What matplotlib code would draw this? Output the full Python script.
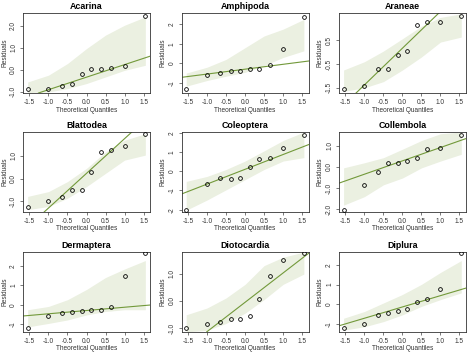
import matplotlib
matplotlib.use('Agg')
import matplotlib.pyplot as plt

plt.rcParams['font.family'] = ['Liberation Sans', 'DejaVu Sans']

# theoretical quantiles of the 10 points, and x positions where the envelope is read
quantiles = [-1.547, -1.0, -0.655, -0.375, -0.123, 0.123, 0.375, 0.655, 1.0, 1.547]
band_q = [-1.547, -1.0, -0.5, 0.0, 0.5, 1.0, 1.547]

taxa = ['Acarina', 'Amphipoda', 'Araneae',
        'Blattodea', 'Coleoptera', 'Collembola',
        'Dermaptera', 'Diotocardia', 'Diplura']

resid_acarina = [-0.86, -0.85, -0.74, -0.65, -0.18, 0.02, 0.05, 0.08, 0.18, 2.44]
resid_amphipoda = [-1.34, -0.61, -0.47, -0.39, -0.39, -0.31, -0.31, -0.08, 0.75, 2.37]
resid_araneae = [-1.53, -1.44, -0.72, -0.69, -0.13, 0.04, 1.17, 1.29, 1.29, 1.51]
resid_blattodea = [-1.26, -1.0, -0.8, -0.51, -0.51, 0.28, 1.17, 1.25, 1.42, 1.94]
resid_coleoptera = [-2.0, -0.69, -0.37, -0.41, -0.34, 0.21, 0.65, 0.67, 1.22, 1.88]
resid_collembola = [-2.02, -0.87, -0.24, 0.19, 0.18, 0.26, 0.43, 0.85, 0.88, 1.51]
resid_dermaptera = [-1.2, -0.56, -0.42, -0.37, -0.32, -0.28, -0.25, -0.11, 1.5, 2.7]
resid_diotocardia = [-0.98, -0.83, -0.76, -0.68, -0.68, -0.55, 0.06, 0.93, 1.49, 1.76]
resid_diplura = [-1.18, -0.98, -0.55, -0.46, -0.34, -0.21, 0.12, 0.29, 0.77, 2.57]

# reference line: intercept, slope
line_intercept = [-0.33, -0.30, 0.17, 0.23, 0.10, 0.28, -0.30, -0.05, -0.13]
line_slope = [0.57, 0.25, 1.55, 1.52, 0.77, 0.63, 0.17, 1.08, 0.57]

# envelope read at band_q
upper_acarina = [-0.55, -0.24, 0.29, 0.97, 1.58, 2.03, 2.41]
lower_acarina = [-1.03, -1.0, -0.85, -0.62, -0.32, -0.02, 0.21]
upper_amphipoda = [-0.5, -0.2, 0.2, 0.8, 1.4, 1.75, 2.25]
lower_amphipoda = [-1.17, -0.88, -0.66, -0.46, -0.12, 0.3, 0.64]
upper_araneae = [-0.75, -0.4, 0.05, 0.57, 1.1, 1.47, 1.62]
lower_araneae = [-1.65, -1.5, -1.24, -0.75, -0.2, 0.43, 0.64]
upper_blattodea = [-0.78, -0.57, -0.13, 0.45, 1.17, 1.68, 1.97]
lower_blattodea = [-1.36, -1.22, -0.86, -0.35, 0.23, 0.81, 1.03]
upper_coleoptera = [-0.53, -0.27, 0.09, 0.53, 1.06, 1.6, 2.04]
lower_coleoptera = [-2.03, -1.5, -0.97, -0.44, 0.09, 0.53, 0.71]
upper_collembola = [-0.05, 0.19, 0.43, 0.83, 1.24, 1.56, 1.64]
lower_collembola = [-1.81, -1.41, -0.85, -0.53, -0.05, 0.27, 0.59]
upper_dermaptera = [-0.26, -0.09, 0.26, 0.79, 1.41, 1.85, 2.29]
lower_dermaptera = [-1.15, -0.97, -0.79, -0.53, -0.35, -0.26, -0.26]
upper_diotocardia = [-0.51, -0.26, 0.11, 0.61, 1.3, 1.61, 1.8]
lower_diotocardia = [-1.14, -1.08, -0.83, -0.45, 0.05, 0.61, 0.99]
upper_diplura = [-0.7, -0.36, 0.07, 0.5, 1.01, 1.61, 2.21]
lower_diplura = [-1.3, -1.13, -0.87, -0.53, -0.1, 0.24, 0.58]

residuals = [resid_acarina, resid_amphipoda, resid_araneae,
             resid_blattodea, resid_coleoptera, resid_collembola,
             resid_dermaptera, resid_diotocardia, resid_diplura]
uppers = [upper_acarina, upper_amphipoda, upper_araneae,
          upper_blattodea, upper_coleoptera, upper_collembola,
          upper_dermaptera, upper_diotocardia, upper_diplura]
lowers = [lower_acarina, lower_amphipoda, lower_araneae,
          lower_blattodea, lower_coleoptera, lower_collembola,
          lower_dermaptera, lower_diotocardia, lower_diplura]

ylims = [(-1.05, 2.58), (-1.52, 2.57), (-1.72, 1.65),
         (-1.46, 2.04), (-2.12, 2.04), (-2.13, 1.64),
         (-1.41, 2.73), (-1.14, 1.8), (-1.39, 2.64)]
yticks = [[-1.0, 0.0, 1.0, 2.0], [-1, 0, 1, 2], [-1.5, -0.5, 0.5],
          [-1.0, 0.0, 1.0], [-2, -1, 0, 1, 2], [-2.0, -1.0, 0.0, 1.0],
          [-1, 0, 1, 2], [-1.0, 0.0, 1.0], [-1, 0, 1, 2]]
ytick_fmt = ['%.1f', '%d', '%.1f', '%.1f', '%d', '%.1f', '%d', '%.1f', '%d']

xticks = [-1.5, -1.0, -0.5, 0.0, 0.5, 1.0, 1.5]

band_color = '#ebf0e1'
line_color = '#72993a'
text_color = '#333333'

fig = plt.figure(figsize=(4.74, 3.55), dpi=100)

col_left = [0.0485, 0.383, 0.715]
row_bottom = [0.738, 0.403, 0.065]
w, h = 0.268, 0.225

for i, name in enumerate(taxa):
    r, c = divmod(i, 3)
    ax = fig.add_axes([col_left[c], row_bottom[r], w, h])

    ax.fill_between(band_q, lowers[i], uppers[i], color=band_color, lw=0, zorder=1)
    ax.axline((0, line_intercept[i]), slope=line_slope[i], color=line_color, lw=0.8, zorder=2)
    ax.plot(quantiles, residuals[i], 'o', mfc='none', mec='black', ms=2.7, mew=0.6, zorder=3)

    ax.set_xlim(-1.67, 1.67)
    ax.set_ylim(*ylims[i])
    ax.set_xticks(xticks)
    ax.set_xticklabels(['%.1f' % t for t in xticks])
    ax.set_yticks(yticks[i])
    ax.set_yticklabels([ytick_fmt[i] % t for t in yticks[i]], rotation=90, va='center')

    ax.tick_params(direction='out', length=2.2, width=0.5, pad=2, labelsize=4.7,
                   colors='#444444', labelcolor=text_color)
    for s in ax.spines.values():
        s.set_linewidth(0.6)
        s.set_color('#333333')

    ax.set_title(name, fontsize=6.4, fontweight='bold', pad=3.2)
    ax.set_xlabel('Theoretical Quantiles', fontsize=4.7, color=text_color, labelpad=0.5)
    ax.set_ylabel('Residuals', fontsize=4.7, color=text_color, labelpad=1.5)

plt.savefig('out.png', dpi=100)
plt.close()
